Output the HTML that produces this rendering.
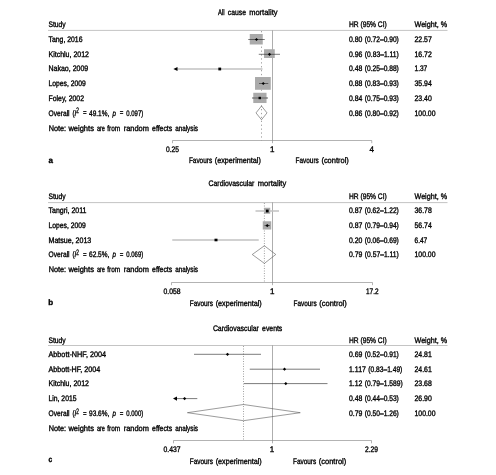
<!DOCTYPE html>
<html><head><meta charset="utf-8"><title>Forest plots</title>
<style>
html,body{margin:0;padding:0;background:#fff;}
svg{display:block;}
text{font-family:"Liberation Sans",sans-serif;font-size:8.0px;fill:#000;stroke:#000;stroke-width:0.35px;text-rendering:geometricPrecision;}
</style></head><body>
<svg width="496" height="475" viewBox="0 0 496 475">
<rect width="496" height="475" fill="#fff"/>
<text x="218.1" y="14.5" textLength="6.5" lengthAdjust="spacingAndGlyphs">All</text>
<text x="227.8" y="14.5" textLength="18.2" lengthAdjust="spacingAndGlyphs">cause</text>
<text x="249.2" y="14.5" textLength="28.3" lengthAdjust="spacingAndGlyphs">mortality</text>
<text x="48.5" y="27.2" textLength="17.25" lengthAdjust="spacingAndGlyphs">Study</text>
<text x="349" y="27.2" textLength="37.75" lengthAdjust="spacingAndGlyphs">HR (95% CI)</text>
<text x="414.5" y="27.2" textLength="32.5" lengthAdjust="spacingAndGlyphs">Weight, %</text>
<line x1="48" y1="30.4" x2="447.5" y2="30.4" stroke="#aaa" stroke-width="0.7"/>
<text x="48.5" y="41.85" textLength="34" lengthAdjust="spacingAndGlyphs">Tang, 2016</text>
<text x="48.5" y="56.8" textLength="40.5" lengthAdjust="spacingAndGlyphs">Kitchlu, 2012</text>
<text x="48.5" y="71.45" textLength="39.75" lengthAdjust="spacingAndGlyphs">Nakao, 2009</text>
<text x="48.5" y="86.1" textLength="37.25" lengthAdjust="spacingAndGlyphs">Lopes, 2009</text>
<text x="48.5" y="101.1" textLength="35.5" lengthAdjust="spacingAndGlyphs">Foley, 2002</text>
<text x="48.6" y="115.7" textLength="21" lengthAdjust="spacingAndGlyphs">Overall</text>
<text x="72.5" y="115.7" textLength="2.0" lengthAdjust="spacingAndGlyphs">(</text>
<text x="74.5" y="115.7" textLength="1.7" lengthAdjust="spacingAndGlyphs" font-style="italic">I</text>
<text x="76.3" y="113.4" textLength="2.6" lengthAdjust="spacingAndGlyphs" font-size="5.6">2</text>
<text x="82.9" y="115.4" textLength="3.6" lengthAdjust="spacingAndGlyphs" font-size="7">=</text>
<text x="89.1" y="115.7" textLength="20.2" lengthAdjust="spacingAndGlyphs">49.1%,</text>
<text x="112.6" y="115.7" textLength="3.4" lengthAdjust="spacingAndGlyphs" font-style="italic">p</text>
<text x="119.7" y="115.4" textLength="3.6" lengthAdjust="spacingAndGlyphs" font-size="7">=</text>
<text x="126.3" y="115.7" textLength="16.9" lengthAdjust="spacingAndGlyphs">0.097)</text>
<text x="48.7" y="130.6" textLength="17.4" lengthAdjust="spacingAndGlyphs">Note:</text>
<text x="68.4" y="130.6" textLength="25.5" lengthAdjust="spacingAndGlyphs">weights</text>
<text x="96.9" y="130.6" textLength="8.0" lengthAdjust="spacingAndGlyphs">are</text>
<text x="107.25" y="130.6" textLength="12.85" lengthAdjust="spacingAndGlyphs">from</text>
<text x="123.7" y="130.6" textLength="25.2" lengthAdjust="spacingAndGlyphs">random</text>
<text x="152.1" y="130.6" textLength="20.1" lengthAdjust="spacingAndGlyphs">effects</text>
<text x="175.2" y="130.6" textLength="22.8" lengthAdjust="spacingAndGlyphs">analysis</text>
<text x="349" y="41.85" textLength="13.4" lengthAdjust="spacingAndGlyphs">0.80</text>
<text x="364.79999999999995" y="41.85" textLength="34.0" lengthAdjust="spacingAndGlyphs">(0.72–0.90)</text>
<text x="414.5" y="41.85" textLength="17.3" lengthAdjust="spacingAndGlyphs">22.57</text>
<text x="349" y="56.8" textLength="13.4" lengthAdjust="spacingAndGlyphs">0.96</text>
<text x="364.79999999999995" y="56.8" textLength="34.0" lengthAdjust="spacingAndGlyphs">(0.83–1.11)</text>
<text x="414.5" y="56.8" textLength="17.3" lengthAdjust="spacingAndGlyphs">16.72</text>
<text x="349" y="71.45" textLength="13.4" lengthAdjust="spacingAndGlyphs">0.48</text>
<text x="364.79999999999995" y="71.45" textLength="34.0" lengthAdjust="spacingAndGlyphs">(0.25–0.88)</text>
<text x="414.5" y="71.45" textLength="12.75" lengthAdjust="spacingAndGlyphs">1.37</text>
<text x="349" y="86.1" textLength="13.4" lengthAdjust="spacingAndGlyphs">0.88</text>
<text x="364.79999999999995" y="86.1" textLength="34.0" lengthAdjust="spacingAndGlyphs">(0.83–0.93)</text>
<text x="414.5" y="86.1" textLength="17.3" lengthAdjust="spacingAndGlyphs">35.94</text>
<text x="349" y="101.1" textLength="13.4" lengthAdjust="spacingAndGlyphs">0.84</text>
<text x="364.79999999999995" y="101.1" textLength="34.0" lengthAdjust="spacingAndGlyphs">(0.75–0.93)</text>
<text x="414.5" y="101.1" textLength="17.3" lengthAdjust="spacingAndGlyphs">23.40</text>
<text x="349" y="115.7" textLength="13.4" lengthAdjust="spacingAndGlyphs">0.86</text>
<text x="364.79999999999995" y="115.7" textLength="34.0" lengthAdjust="spacingAndGlyphs">(0.80–0.92)</text>
<text x="414.5" y="115.7" textLength="21" lengthAdjust="spacingAndGlyphs">100.00</text>
<line x1="272.5" y1="30.5" x2="272.5" y2="140.5" stroke="#777" stroke-width="0.6"/>
<line x1="261.5" y1="31" x2="261.5" y2="140.5" stroke="#555" stroke-width="0.55" stroke-dasharray="1.3 2.6"/>
<rect x="249.75" y="34.0" width="13" height="10.5" fill="#aaaaaa"/>
<line x1="248.25" y1="39.5" x2="264.75" y2="39.5" stroke="#222" stroke-width="0.6"/>
<rect x="264.025" y="49.225" width="10.75" height="8.75" fill="#aaaaaa"/>
<line x1="258.75" y1="54.3" x2="280" y2="54.3" stroke="#222" stroke-width="0.6"/>
<line x1="176.5" y1="69" x2="262.5" y2="69" stroke="#c2c2c2" stroke-width="1.5"/>
<polygon points="173.4,69 177.5,66.9 177.5,71.1" fill="#000"/>
<rect x="218.35" y="67.6" width="2.8" height="2.8" fill="#000"/>
<rect x="255.02499999999998" y="77.025" width="15.75" height="12.75" fill="#aaaaaa"/>
<line x1="259" y1="83.5" x2="268.25" y2="83.5" stroke="#222" stroke-width="0.6"/>
<rect x="253.27499999999998" y="92.775" width="13.25" height="10.25" fill="#aaaaaa"/>
<line x1="252.25" y1="98" x2="267.75" y2="98" stroke="#7d7d7d" stroke-width="1.6"/>
<polygon points="254.9,39.5 256.5,37.9 258.1,39.5 256.5,41.1" fill="#000"/>
<polygon points="267.9,54.3 269.5,52.699999999999996 271.1,54.3 269.5,55.9" fill="#000"/>
<polygon points="261.65,83.5 263.25,81.9 264.85,83.5 263.25,85.1" fill="#000"/>
<rect x="258.55" y="96.8" width="2.4" height="2.4" fill="#000"/>
<polygon points="256,112.9 261.5,106 267,112.9 261.5,119.75" fill="none" stroke="#4a4a4a" stroke-width="0.55"/>
<line x1="172.5" y1="140.5" x2="371.75" y2="140.5" stroke="#808080" stroke-width="0.6"/>
<line x1="172.5" y1="140.5" x2="172.5" y2="143.2" stroke="#808080" stroke-width="0.6"/>
<line x1="272.5" y1="140.5" x2="272.5" y2="143.2" stroke="#808080" stroke-width="0.6"/>
<line x1="371.75" y1="140.5" x2="371.75" y2="143.2" stroke="#808080" stroke-width="0.6"/>
<text x="172.5" y="152" text-anchor="middle" textLength="13" lengthAdjust="spacingAndGlyphs">0.25</text>
<text x="272.25" y="152" text-anchor="middle">1</text>
<text x="371.75" y="152" text-anchor="middle">4</text>
<text x="188.9" y="163.4" textLength="23.2" lengthAdjust="spacingAndGlyphs">Favours</text>
<text x="214.8" y="163.4" textLength="46" lengthAdjust="spacingAndGlyphs">(experimental)</text>
<text x="295.6" y="163.4" textLength="23.2" lengthAdjust="spacingAndGlyphs">Favours</text>
<text x="321.40000000000003" y="163.4" textLength="27.4" lengthAdjust="spacingAndGlyphs">(control)</text>
<text x="48.5" y="162.5" font-weight="bold">a</text>
<text x="208.6" y="186.4" textLength="45.8" lengthAdjust="spacingAndGlyphs">Cardiovascular</text>
<text x="257.7" y="186.4" textLength="28.5" lengthAdjust="spacingAndGlyphs">mortality</text>
<text x="48.5" y="199.0" textLength="17.25" lengthAdjust="spacingAndGlyphs">Study</text>
<text x="349" y="199.0" textLength="37.75" lengthAdjust="spacingAndGlyphs">HR (95% CI)</text>
<text x="414.5" y="199.0" textLength="32.5" lengthAdjust="spacingAndGlyphs">Weight, %</text>
<line x1="48" y1="202.6" x2="447.5" y2="202.6" stroke="#aaa" stroke-width="0.7"/>
<text x="48.5" y="213.4" textLength="38" lengthAdjust="spacingAndGlyphs">Tangri, 2011</text>
<text x="48.5" y="228.0" textLength="37.25" lengthAdjust="spacingAndGlyphs">Lopes, 2009</text>
<text x="48.5" y="243.0" textLength="42.75" lengthAdjust="spacingAndGlyphs">Matsue, 2013</text>
<text x="48.6" y="257.4" textLength="21" lengthAdjust="spacingAndGlyphs">Overall</text>
<text x="72.5" y="257.4" textLength="2.0" lengthAdjust="spacingAndGlyphs">(</text>
<text x="74.5" y="257.4" textLength="1.7" lengthAdjust="spacingAndGlyphs" font-style="italic">I</text>
<text x="76.3" y="255.09999999999997" textLength="2.6" lengthAdjust="spacingAndGlyphs" font-size="5.6">2</text>
<text x="82.9" y="257.09999999999997" textLength="3.6" lengthAdjust="spacingAndGlyphs" font-size="7">=</text>
<text x="89.1" y="257.4" textLength="20.2" lengthAdjust="spacingAndGlyphs">62.5%,</text>
<text x="112.6" y="257.4" textLength="3.4" lengthAdjust="spacingAndGlyphs" font-style="italic">p</text>
<text x="119.7" y="257.09999999999997" textLength="3.6" lengthAdjust="spacingAndGlyphs" font-size="7">=</text>
<text x="126.3" y="257.4" textLength="16.9" lengthAdjust="spacingAndGlyphs">0.069)</text>
<text x="48.7" y="272.1" textLength="17.4" lengthAdjust="spacingAndGlyphs">Note:</text>
<text x="68.4" y="272.1" textLength="25.5" lengthAdjust="spacingAndGlyphs">weights</text>
<text x="96.9" y="272.1" textLength="8.0" lengthAdjust="spacingAndGlyphs">are</text>
<text x="107.25" y="272.1" textLength="12.85" lengthAdjust="spacingAndGlyphs">from</text>
<text x="123.7" y="272.1" textLength="25.2" lengthAdjust="spacingAndGlyphs">random</text>
<text x="152.1" y="272.1" textLength="20.1" lengthAdjust="spacingAndGlyphs">effects</text>
<text x="175.2" y="272.1" textLength="22.8" lengthAdjust="spacingAndGlyphs">analysis</text>
<text x="349" y="213.4" textLength="13.4" lengthAdjust="spacingAndGlyphs">0.87</text>
<text x="364.79999999999995" y="213.4" textLength="34.0" lengthAdjust="spacingAndGlyphs">(0.62–1.22)</text>
<text x="414.5" y="213.4" textLength="17.3" lengthAdjust="spacingAndGlyphs">36.78</text>
<text x="349" y="228.0" textLength="13.4" lengthAdjust="spacingAndGlyphs">0.87</text>
<text x="364.79999999999995" y="228.0" textLength="34.0" lengthAdjust="spacingAndGlyphs">(0.79–0.94)</text>
<text x="414.5" y="228.0" textLength="17.3" lengthAdjust="spacingAndGlyphs">56.74</text>
<text x="349" y="243.0" textLength="13.4" lengthAdjust="spacingAndGlyphs">0.20</text>
<text x="364.79999999999995" y="243.0" textLength="34.0" lengthAdjust="spacingAndGlyphs">(0.06–0.69)</text>
<text x="414.5" y="243.0" textLength="12.75" lengthAdjust="spacingAndGlyphs">6.47</text>
<text x="349" y="257.4" textLength="13.4" lengthAdjust="spacingAndGlyphs">0.79</text>
<text x="364.79999999999995" y="257.4" textLength="34.0" lengthAdjust="spacingAndGlyphs">(0.57–1.11)</text>
<text x="414.5" y="257.4" textLength="21" lengthAdjust="spacingAndGlyphs">100.00</text>
<line x1="272.5" y1="202.5" x2="272.5" y2="282.5" stroke="#777" stroke-width="0.6"/>
<line x1="264.4" y1="203" x2="264.4" y2="282.5" stroke="#555" stroke-width="0.55" stroke-dasharray="1 1.5"/>
<rect x="263.975" y="207.75" width="6.25" height="6" fill="#aaaaaa"/>
<line x1="255.5" y1="211" x2="279" y2="211" stroke="#c2c2c2" stroke-width="1.5"/>
<rect x="262.75" y="221.275" width="8.5" height="8.25" fill="#aaaaaa"/>
<line x1="264.5" y1="225.6" x2="270" y2="225.6" stroke="#222" stroke-width="0.6"/>
<line x1="172.25" y1="240" x2="258.75" y2="240" stroke="#c2c2c2" stroke-width="1.5"/>
<rect x="214.5" y="238.7" width="3" height="2.6" fill="#000"/>
<rect x="265.85" y="209.6" width="2.8" height="2.8" fill="#000"/>
<polygon points="265.65,225.6 267.25,224.0 268.85,225.6 267.25,227.2" fill="#000"/>
<polygon points="252.25,254.5 264.4,245.75 275.75,254.5 264.4,263.4" fill="none" stroke="#4a4a4a" stroke-width="0.55"/>
<line x1="171.5" y1="282.5" x2="372.5" y2="282.5" stroke="#808080" stroke-width="0.6"/>
<line x1="171.5" y1="282.5" x2="171.5" y2="285.2" stroke="#808080" stroke-width="0.6"/>
<line x1="272.5" y1="282.5" x2="272.5" y2="285.2" stroke="#808080" stroke-width="0.6"/>
<line x1="372.5" y1="282.5" x2="372.5" y2="285.2" stroke="#808080" stroke-width="0.6"/>
<text x="172" y="294" text-anchor="middle" textLength="17" lengthAdjust="spacingAndGlyphs">0.058</text>
<text x="272.25" y="294" text-anchor="middle">1</text>
<text x="372.25" y="294" text-anchor="middle" textLength="12.5" lengthAdjust="spacingAndGlyphs">17.2</text>
<text x="189.75" y="305.6" textLength="23.2" lengthAdjust="spacingAndGlyphs">Favours</text>
<text x="215.65" y="305.6" textLength="46" lengthAdjust="spacingAndGlyphs">(experimental)</text>
<text x="293.5" y="305.6" textLength="23.2" lengthAdjust="spacingAndGlyphs">Favours</text>
<text x="319.3" y="305.6" textLength="27.4" lengthAdjust="spacingAndGlyphs">(control)</text>
<text x="48.2" y="305.1" font-weight="bold">b</text>
<text x="212.9" y="330.8" textLength="46" lengthAdjust="spacingAndGlyphs">Cardiovascular</text>
<text x="262.1" y="330.8" textLength="20.2" lengthAdjust="spacingAndGlyphs">events</text>
<text x="48.5" y="342.6" textLength="17.25" lengthAdjust="spacingAndGlyphs">Study</text>
<text x="349" y="342.6" textLength="37.75" lengthAdjust="spacingAndGlyphs">HR (95% CI)</text>
<text x="414.5" y="342.6" textLength="32.5" lengthAdjust="spacingAndGlyphs">Weight, %</text>
<line x1="48" y1="345.5" x2="447.5" y2="345.5" stroke="#aaa" stroke-width="0.7"/>
<text x="48.5" y="356.9" textLength="57.5" lengthAdjust="spacingAndGlyphs">Abbott-NHF, 2004</text>
<text x="48.5" y="371.7" textLength="51.75" lengthAdjust="spacingAndGlyphs">Abbott-HF, 2004</text>
<text x="48.5" y="386.3" textLength="40.5" lengthAdjust="spacingAndGlyphs">Kitchlu, 2012</text>
<text x="48.5" y="401.0" textLength="28" lengthAdjust="spacingAndGlyphs">Lin, 2015</text>
<text x="48.6" y="415.9" textLength="21" lengthAdjust="spacingAndGlyphs">Overall</text>
<text x="72.5" y="415.9" textLength="2.0" lengthAdjust="spacingAndGlyphs">(</text>
<text x="74.5" y="415.9" textLength="1.7" lengthAdjust="spacingAndGlyphs" font-style="italic">I</text>
<text x="76.3" y="413.59999999999997" textLength="2.6" lengthAdjust="spacingAndGlyphs" font-size="5.6">2</text>
<text x="82.9" y="415.59999999999997" textLength="3.6" lengthAdjust="spacingAndGlyphs" font-size="7">=</text>
<text x="89.1" y="415.9" textLength="20.2" lengthAdjust="spacingAndGlyphs">93.6%,</text>
<text x="112.6" y="415.9" textLength="3.4" lengthAdjust="spacingAndGlyphs" font-style="italic">p</text>
<text x="119.7" y="415.59999999999997" textLength="3.6" lengthAdjust="spacingAndGlyphs" font-size="7">=</text>
<text x="126.3" y="415.9" textLength="16.9" lengthAdjust="spacingAndGlyphs">0.000)</text>
<text x="48.7" y="430.5" textLength="17.4" lengthAdjust="spacingAndGlyphs">Note:</text>
<text x="68.4" y="430.5" textLength="25.5" lengthAdjust="spacingAndGlyphs">weights</text>
<text x="96.9" y="430.5" textLength="8.0" lengthAdjust="spacingAndGlyphs">are</text>
<text x="107.25" y="430.5" textLength="12.85" lengthAdjust="spacingAndGlyphs">from</text>
<text x="123.7" y="430.5" textLength="25.2" lengthAdjust="spacingAndGlyphs">random</text>
<text x="152.1" y="430.5" textLength="20.1" lengthAdjust="spacingAndGlyphs">effects</text>
<text x="175.2" y="430.5" textLength="22.8" lengthAdjust="spacingAndGlyphs">analysis</text>
<text x="349" y="356.9" textLength="13.4" lengthAdjust="spacingAndGlyphs">0.69</text>
<text x="364.79999999999995" y="356.9" textLength="34.0" lengthAdjust="spacingAndGlyphs">(0.52–0.91)</text>
<text x="414.5" y="356.9" textLength="17.3" lengthAdjust="spacingAndGlyphs">24.81</text>
<text x="349" y="371.7" textLength="16.9" lengthAdjust="spacingAndGlyphs">1.117</text>
<text x="368.29999999999995" y="371.7" textLength="34.0" lengthAdjust="spacingAndGlyphs">(0.83–1.49)</text>
<text x="414.5" y="371.7" textLength="17.3" lengthAdjust="spacingAndGlyphs">24.61</text>
<text x="349" y="386.3" textLength="13.4" lengthAdjust="spacingAndGlyphs">1.12</text>
<text x="364.79999999999995" y="386.3" textLength="37.9" lengthAdjust="spacingAndGlyphs">(0.79–1.589)</text>
<text x="414.5" y="386.3" textLength="17.3" lengthAdjust="spacingAndGlyphs">23.68</text>
<text x="349" y="401.0" textLength="13.4" lengthAdjust="spacingAndGlyphs">0.48</text>
<text x="364.79999999999995" y="401.0" textLength="34.0" lengthAdjust="spacingAndGlyphs">(0.44–0.53)</text>
<text x="414.5" y="401.0" textLength="17.3" lengthAdjust="spacingAndGlyphs">26.90</text>
<text x="349" y="415.9" textLength="13.4" lengthAdjust="spacingAndGlyphs">0.79</text>
<text x="364.79999999999995" y="415.9" textLength="34.0" lengthAdjust="spacingAndGlyphs">(0.50–1.26)</text>
<text x="414.5" y="415.9" textLength="21" lengthAdjust="spacingAndGlyphs">100.00</text>
<line x1="272.5" y1="345.5" x2="272.5" y2="440.5" stroke="#777" stroke-width="0.6"/>
<line x1="243.5" y1="346" x2="243.5" y2="440.5" stroke="#555" stroke-width="0.55" stroke-dasharray="1 1.5"/>
<line x1="194" y1="354.3" x2="261" y2="354.3" stroke="#222" stroke-width="0.6"/>
<polygon points="225.9,354.3 227.5,352.7 229.1,354.3 227.5,355.90000000000003" fill="#000"/>
<line x1="249.75" y1="369.2" x2="320" y2="369.2" stroke="#222" stroke-width="0.6"/>
<polygon points="282.9,369.2 284.5,367.59999999999997 286.1,369.2 284.5,370.8" fill="#000"/>
<line x1="244" y1="383.6" x2="327.5" y2="383.6" stroke="#222" stroke-width="0.6"/>
<polygon points="284.2,383.6 285.8,382.0 287.40000000000003,383.6 285.8,385.20000000000005" fill="#000"/>
<line x1="176.5" y1="398.6" x2="197.3" y2="398.6" stroke="#222" stroke-width="0.6"/>
<polygon points="173,398.6 177,396.5 177,400.7" fill="#000"/>
<polygon points="183.0,398.6 184.6,397.0 186.2,398.6 184.6,400.20000000000005" fill="#000"/>
<polygon points="187.4,412.7 243.5,404.5 300.25,412.7 243.5,420.7" fill="none" stroke="#4a4a4a" stroke-width="0.55"/>
<line x1="173.5" y1="440.5" x2="371.5" y2="440.5" stroke="#808080" stroke-width="0.6"/>
<line x1="173.5" y1="440.5" x2="173.5" y2="443.3" stroke="#808080" stroke-width="0.6"/>
<line x1="272.5" y1="440.5" x2="272.5" y2="443.3" stroke="#808080" stroke-width="0.6"/>
<line x1="371.5" y1="440.5" x2="371.5" y2="443.3" stroke="#808080" stroke-width="0.6"/>
<text x="172" y="451.5" text-anchor="middle" textLength="17" lengthAdjust="spacingAndGlyphs">0.437</text>
<text x="272" y="451.5" text-anchor="middle">1</text>
<text x="371.5" y="451.5" text-anchor="middle" textLength="13" lengthAdjust="spacingAndGlyphs">2.29</text>
<text x="189.75" y="463.9" textLength="23.2" lengthAdjust="spacingAndGlyphs">Favours</text>
<text x="215.65" y="463.9" textLength="46" lengthAdjust="spacingAndGlyphs">(experimental)</text>
<text x="293" y="463.9" textLength="23.2" lengthAdjust="spacingAndGlyphs">Favours</text>
<text x="318.8" y="463.9" textLength="27.4" lengthAdjust="spacingAndGlyphs">(control)</text>
<text x="48.4" y="462.2" textLength="3.7" lengthAdjust="spacingAndGlyphs" font-weight="bold">c</text>
</svg>
</body></html>
